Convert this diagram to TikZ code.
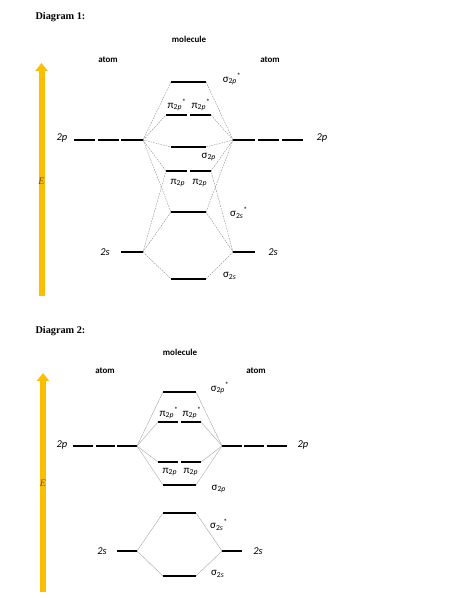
\documentclass[tikz,border=0pt]{standalone}
\usepackage{fontspec}
\setmainfont{Liberation Serif}
\newfontfamily\calibri{Carlito}
\usetikzlibrary{arrows.meta}
\definecolor{gold}{RGB}{252,190,0}
\definecolor{ebrown}{RGB}{120,80,20}
% orbital label: letter, subscript shell, superscript
\newcommand\orb[3]{{\calibri #1\textsubscript{2\textit{#2}}\textsuperscript{#3}}}
\begin{document}
\begin{tikzpicture}[x=1bp,y=-1bp,
    level/.style={line width=1.6bp},
    link/.style={gray, line width=0.35bp, dash pattern=on 1.6bp off 1bp},
    plainlink/.style={gray!70, line width=0.4bp},
    energy/.style={gold, line width=6bp, -{Triangle[width=12bp,length=8bp]}},
    title/.style={font=\fontsize{10.3}{12}\selectfont\bfseries, anchor=west},
    head/.style={font=\calibri\fontsize{9}{10}\selectfont\bfseries},
    ao/.style={font=\calibri\fontsize{10.5}{12}\selectfont\itshape},
    mo/.style={font=\fontsize{11}{12}\selectfont, inner sep=1bp}]
    \useasboundingbox (0,0) rectangle (474,598);

    % ---- Diagram 1
    \node[title] (t1) at (32,17) {Diagram 1:};
    \node[head] (m1) at (189,39) {molecule};
    \node[head] (al1) at (108,60) {atom};
    \node[head] (ar1) at (270,60) {atom};
    \draw[energy] (41.5,296) -- (41.5,63);
    \node[ebrown, font=\fontsize{10}{12}\selectfont\itshape] (e1) at (41.5,181) {E};

    % atomic levels
    \draw[level] (74,140) -- (95,140) (98,140) -- (119,140) (121,140) -- (143,140) coordinate (a2p);
    \draw[level] (233,140) coordinate (b2p) -- (255,140) (258,140) -- (279,140) (282,140) -- (303,140);
    \draw[level] (121,252) -- (143,252) coordinate (a2s);
    \draw[level] (233,252) coordinate (b2s) -- (255,252);
    \node[ao] (l2p1) at (62,138) {2p};
    \node[ao] (r2p1) at (322,138) {2p};
    \node[ao] (l2s1) at (105,252) {2s};
    \node[ao] (r2s1) at (273,252) {2s};

    % molecular levels
    \draw[level] (171,82) coordinate (ss2p-l) -- (206,82) coordinate (ss2p-r);
    \draw[level] (166,115) coordinate (ps2p-l) -- (187,115) (190,115) -- (211,115) coordinate (ps2p-r);
    \draw[level] (171,147) coordinate (s2p-l) -- (206,147) coordinate (s2p-r);
    \draw[level] (166,171) coordinate (p2p-l) -- (187,171) (190,171) -- (211,171) coordinate (p2p-r);
    \draw[level] (171,212) coordinate (ss2s-l) -- (206,212) coordinate (ss2s-r);
    \draw[level] (171,279) coordinate (s2s-l) -- (206,279) coordinate (s2s-r);

    \node[mo] at (232,79) {\orb{σ}{p}{*}};
    \node[mo] at (177,105) {\orb{π}{p}{*}};
    \node[mo] at (201,105) {\orb{π}{p}{*}};
    \node[mo] at (209,157) {\orb{σ}{p}{}};
    \node[mo] at (178,183) {\orb{π}{p}{}};
    \node[mo] at (200,183) {\orb{π}{p}{}};
    \node[mo] at (239,213) {\orb{σ}{s}{*}};
    \node[mo] at (230,276) {\orb{σ}{s}{}};

    \foreach \m in {ss2p,ps2p,s2p,p2p,ss2s}
        \draw[link] (a2p) -- (\m-l) (b2p) -- (\m-r);
    \foreach \m in {p2p,ss2s,s2s}
        \draw[link] (a2s) -- (\m-l) (b2s) -- (\m-r);

    % ---- Diagram 2
    \node[title] (t2) at (32,331) {Diagram 2:};
    \node[head] (m2) at (180,352) {molecule};
    \node[head] (al2) at (105,371) {atom};
    \node[head] (ar2) at (256,371) {atom};
    \draw[energy] (43,592) -- (43,373);
    \node[ebrown, font=\fontsize{10}{12}\selectfont\itshape] (e2) at (43,483) {E};

    \draw[level] (73,446) -- (93,446) (96,446) -- (115,446) (117,446) -- (137,446) coordinate (c2p);
    \draw[level] (222,446) coordinate (d2p) -- (242,446) (244,446) -- (264,446) (267,446) -- (287,446);
    \draw[level] (117,551) -- (137,551) coordinate (c2s);
    \draw[level] (222,551) coordinate (d2s) -- (242,551);
    \node[ao] (l2p2) at (62,445) {2p};
    \node[ao] (r2p2) at (303,445) {2p};
    \node[ao] (l2s2) at (102,551) {2s};
    \node[ao] (r2s2) at (258,551) {2s};

    \draw[level] (163,392) coordinate (tt2p-l) -- (196,392) coordinate (tt2p-r);
    \draw[level] (158,422) coordinate (qs2p-l) -- (178,422) (181,422) -- (201,422) coordinate (qs2p-r);
    \draw[level] (158,462) coordinate (q2p-l) -- (178,462) (181,462) -- (201,462) coordinate (q2p-r);
    \draw[level] (163,485) coordinate (t2p-l) -- (196,485) coordinate (t2p-r);
    \draw[level] (163,513) coordinate (tt2s-l) -- (196,513) coordinate (tt2s-r);
    \draw[level] (163,576) coordinate (t2s-l) -- (196,576) coordinate (t2s-r);

    \node[mo] at (220,388) {\orb{σ}{p}{*}};
    \node[mo] at (169,413) {\orb{π}{p}{*}};
    \node[mo] at (192,413) {\orb{π}{p}{*}};
    \node[mo] at (170,472) {\orb{π}{p}{}};
    \node[mo] at (191,472) {\orb{π}{p}{}};
    \node[mo] at (219,489) {\orb{σ}{p}{}};
    \node[mo] at (219,525) {\orb{σ}{s}{*}};
    \node[mo] at (218,574) {\orb{σ}{s}{}};

    \foreach \m in {tt2p,qs2p,q2p,t2p}
        \draw[plainlink] (c2p) -- (\m-l) (d2p) -- (\m-r);
    \foreach \m in {tt2s,t2s}
        \draw[plainlink] (c2s) -- (\m-l) (d2s) -- (\m-r);
\end{tikzpicture}
\end{document}
